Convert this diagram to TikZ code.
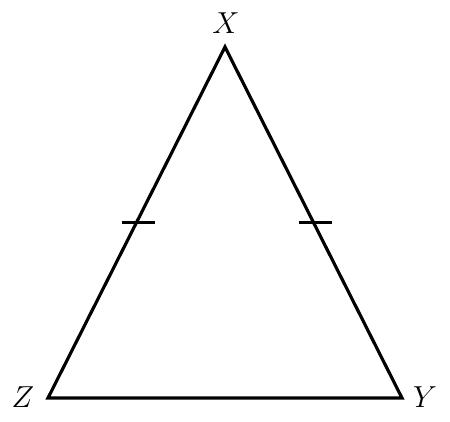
\documentclass[tikz,border=0pt]{standalone}
\usetikzlibrary{positioning, calc}

\begin{document}
\begin{tikzpicture}[x=0.02cm, y=-0.02cm, line width=1.8pt,
        vlabel/.style={inner sep=0pt, font=\fontsize{18}{21}\selectfont},
        tick/.style={line width=1.5pt}]
        \useasboundingbox (0,0) rectangle (450,422);
        \coordinate (x) at (225,47);
        \coordinate (y) at (402,398);
        \coordinate (z) at (48,398);
        \coordinate (mzx) at ($(z)!0.5!(x)$);
        \coordinate (mxy) at ($(x)!0.5!(y)$);

        \node[vlabel] (lx) at (226,23) {$X$};
        \node[vlabel] (ly) at (425,397) {$Y$};
        \node[vlabel] (lz) at (23,397) {$Z$};

        \draw[line join=miter] (x) -- (y) -- (z) -- cycle;
        \draw[tick] ([xshift=-0.3cm]mzx) -- ([xshift=0.38cm]mzx)
        ([xshift=-0.3cm]mxy) -- ([xshift=0.38cm]mxy)
        ;
    \end{tikzpicture}
\end{document}
